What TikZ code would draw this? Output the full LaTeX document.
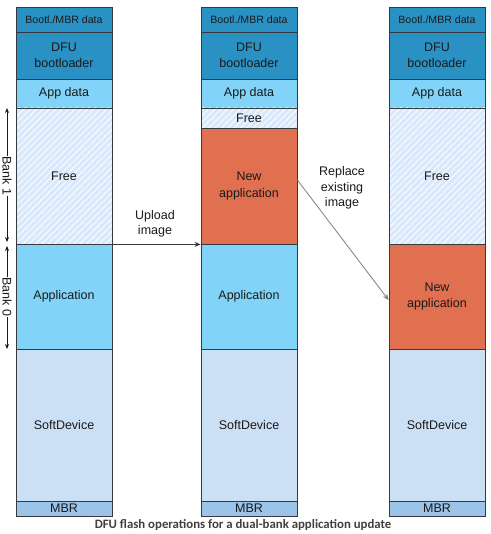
\documentclass[tikz,border=0pt]{standalone}
\usepackage{fontspec}
\setmainfont{Liberation Sans}
\newfontfamily\capfont{Carlito}
\usetikzlibrary{arrows.meta,patterns.meta,calc}
\definecolor{dblue}{HTML}{2A91C4}
\definecolor{lblue}{HTML}{81D4F8}
\definecolor{freebg}{HTML}{DAE8FC}
\definecolor{sdbg}{HTML}{CCE0F5}
\definecolor{mbrbg}{HTML}{9CC3E8}
\definecolor{newapp}{HTML}{E07050}
\definecolor{edge}{HTML}{36393D}
\definecolor{txt}{HTML}{1A1A1A}
\definecolor{capgray}{HTML}{404040}
\definecolor{arrgray}{HTML}{7F7F7F}
\tikzset{
  mem/.style={draw=edge, line width=0.8pt, minimum width=96pt, inner sep=0pt,
    align=center, font=\fontsize{12.5}{16.5}\selectfont, text=txt},
  boot/.style={mem, fill=dblue},
  bootsmall/.style={mem, fill=dblue, font=\fontsize{10.6}{12}\selectfont},
  appbox/.style={mem, fill=lblue},
  freebox/.style={mem, preaction={fill=freebg},
    pattern={Lines[angle=45,distance=4.5pt,line width=0.8pt]}, pattern color=white},
  sdbox/.style={mem, fill=sdbg},
  mbrbox/.style={mem, fill=mbrbg},
  newbox/.style={mem, fill=newapp},
  lbl/.style={align=center, font=\fontsize{12.5}{15.5}\selectfont, text=txt},
  conn/.style={line width=0.8pt, -{Stealth[length=6pt,width=5pt]}},
  bankarr/.style={line width=0.8pt, {Stealth[length=5pt,width=4pt]}-{Stealth[length=5pt,width=4pt]}},
  banklbl/.style={rotate=-90, fill=white, inner sep=1pt, font=\fontsize{12.5}{14}\selectfont, text=txt}
}
\begin{document}
\begin{tikzpicture}[x=1pt,y=-1pt]
\useasboundingbox (0,0) rectangle (490,534);
\fill[white] (0,0) rectangle (490,534);
% column 1
\node[bootsmall, minimum height=25pt] (bl1) at (64,19.5) {Bootl./MBR data};
\node[boot, minimum height=47pt] (dfu1) at (64,55.5) {DFU\\bootloader};
\node[appbox, minimum height=29pt] (ad1) at (64,93.5) {App data};
\node[freebox, minimum height=136pt] (free1) at (64,176) {Free};
\node[appbox, minimum height=105pt] (app1) at (64,296.5) {Application};
\node[sdbox, minimum height=152pt] (sd1) at (64,425) {SoftDevice};
\node[mbrbox, minimum height=15pt] (mbr1) at (64,508.5) {MBR};
% column 2
\node[bootsmall, minimum height=25pt] (bl2) at (249,19.5) {Bootl./MBR data};
\node[boot, minimum height=47pt] (dfu2) at (249,55.5) {DFU\\bootloader};
\node[appbox, minimum height=29pt] (ad2) at (249,93.5) {App data};
\node[freebox, minimum height=20pt] (free2) at (249,118) {Free};
\node[newbox, minimum height=116pt] (new2) at (249,186) {New\\application};
\node[appbox, minimum height=105pt] (app2) at (249,296.5) {Application};
\node[sdbox, minimum height=152pt] (sd2) at (249,425) {SoftDevice};
\node[mbrbox, minimum height=15pt] (mbr2) at (249,508.5) {MBR};
% column 3
\node[bootsmall, minimum height=25pt] (bl3) at (437,19.5) {Bootl./MBR data};
\node[boot, minimum height=47pt] (dfu3) at (437,55.5) {DFU\\bootloader};
\node[appbox, minimum height=29pt] (ad3) at (437,93.5) {App data};
\node[freebox, minimum height=136pt] (free3) at (437,176) {Free};
\node[newbox, minimum height=105pt] (new3) at (437,296.5) {New\\application};
\node[sdbox, minimum height=152pt] (sd3) at (437,425) {SoftDevice};
\node[mbrbox, minimum height=15pt] (mbr3) at (437,508.5) {MBR};
% connectors
\draw[conn, draw=edge] (free1.south east) -- (new2.south west);
\node[lbl] (up) at (155,224) {Upload\\image};
\draw[conn, draw=arrgray] ($(new2.east)+(0,-6)$) -- ($(new3.west)+(0,3.5)$);
\node[lbl] (rep) at (342,188) {Replace\\existing\\image};
% bank arrows
\coordinate (b1t) at (7,108);
\coordinate (b1b) at (7,242);
\coordinate (b0t) at (7,246);
\coordinate (b0b) at (7,349);
\draw[bankarr, draw=txt] (b1t) -- (b1b);
\draw[bankarr, draw=txt] (b0t) -- (b0b);
\node[banklbl] (bank1) at (7,176) {Bank 1};
\node[banklbl] (bank0) at (7,297) {Bank 0};
% caption
\node[font=\capfont\bfseries\fontsize{12.8}{14}\selectfont, text=capgray] (cap) at (243,524.5) {DFU flash operations for a dual-bank application update};
\end{tikzpicture}
\end{document}
